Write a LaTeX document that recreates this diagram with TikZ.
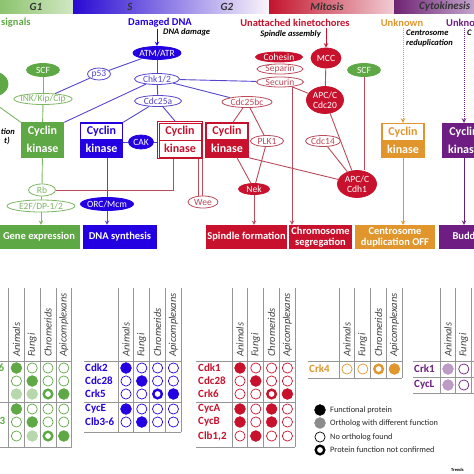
\documentclass[tikz,border=0pt]{standalone}
\usepackage{fontspec}
\setmainfont{Carlito}
\usepackage{tikz}
\usetikzlibrary{shapes.geometric, arrows, fit}
\definecolor{cgreen}{RGB}{95,168,70}
\definecolor{cgline}{RGB}{125,182,100}
\definecolor{cblue}{RGB}{35,0,225}
\definecolor{cbline}{RGB}{85,70,205}
\definecolor{cred}{RGB}{200,18,45}
\definecolor{crline}{RGB}{185,75,90}
\definecolor{corange}{RGB}{224,150,45}
\definecolor{cpurple}{RGB}{110,30,130}
\definecolor{cgrid}{RGB}{150,150,150}
\colorlet{tc}{black}
\tikzstyle{elbase} = [ellipse, inner xsep=-2pt, inner ysep=-1pt, minimum height=11pt, line width=0.8pt, align=center, font=\fontsize{9.5}{10}\selectfont]
\tikzstyle{halfbox} = [rectangle, minimum width=42pt, minimum height=17pt, inner sep=0pt, line width=1.4pt, font=\fontsize{12}{12}\selectfont\bfseries]
\tikzstyle{outbox} = [rectangle, minimum height=24pt, inner sep=1pt, text=white, align=center, font=\fontsize{10.5}{11}\selectfont\bfseries]
\tikzstyle{arrow} = [->, >=stealth]
\tikzstyle{bline} = [draw=cbline, line width=0.9pt]
\tikzstyle{gline} = [draw=cgline, line width=0.9pt]
\tikzstyle{rline} = [draw=crline, line width=0.9pt]
\tikzstyle{dotarrow} = [densely dotted, line width=1pt, ->, >=stealth]
\tikzstyle{note} = [inner sep=0pt, font=\fontsize{8.5}{10}\selectfont\bfseries\itshape]
\tikzstyle{phase} = [inner sep=0pt, text=black!80, font=\fontsize{11}{11}\selectfont\bfseries\itshape]
\tikzstyle{source} = [inner sep=1pt, font=\fontsize{10.5}{11}\selectfont\bfseries]
\tikzstyle{colhead} = [rotate=90, anchor=west, inner sep=1pt, text=black!75, font=\fontsize{10.5}{11}\selectfont\itshape]
\tikzstyle{rowlab} = [anchor=west, inner sep=0pt, font=\fontsize{11}{11}\selectfont\bfseries]
\tikzstyle{legtext} = [anchor=west, inner sep=0pt, text=black!85, font=\fontsize{8.3}{9}\selectfont]
\tikzstyle{gridline} = [draw=cgrid, line width=0.8pt]
\tikzstyle{cf} = [fill=tc, draw=tc, line width=0.6pt, radius=5.4pt]
\tikzstyle{co} = [fill=tc!45, draw=tc!45, line width=0.6pt, radius=5.4pt]
\tikzstyle{cn} = [fill=white, draw=tc, line width=0.7pt, radius=5.1pt]
\tikzstyle{cu} = [fill=white, draw=tc, line width=2.4pt, radius=4.3pt]
% column heads and grid of one ortholog table
\newcommand{\orthohead}[5]{%
  \foreach \t [count=\i from 0] in {#4}
    \node[colhead] (#3\i) at (#1+7.9+15.8*\i,358) {\t};
  \foreach \i in {0,...,#5}
    \draw[gridline] (#1+15.8*\i,288) -- (#1+15.8*\i,#2);
}
% one row of circles
\newcommand{\orthorow}[3]{%
  \foreach \k [count=\i from 0] in {#3}
    \path[\k] (#1+15.8*\i,#2) circle[];
}

\begin{document}
\begin{tikzpicture}[x=1pt, y=-1pt]
	\useasboundingbox (0,0) rectangle (474,474);
	\clip (0,0) rectangle (474,474);
	% Phase bar
	\shade[left color={rgb,255:red,140;green,195;blue,110}, right color={rgb,255:red,210;green,232;blue,195}] (0,0) rectangle (73,13);
	\shade[left color={rgb,255:red,40;green,10;blue,210}, right color={rgb,255:red,250;green,245;blue,250}] (73,0) rectangle (269,13);
	\shade[left color={rgb,255:red,195;green,20;blue,45}, right color={rgb,255:red,240;green,205;blue,212}] (269,0) rectangle (394,13);
	\shade[left color={rgb,255:red,110;green,35;blue,115}, right color={rgb,255:red,195;green,165;blue,205}] (394,0) rectangle (474,13);
	\node[phase] (phG1) at (36,6.8) {G1};
	\node[phase] (phS) at (130,6.8) {S};
	\node[phase] (phG2) at (227,6.8) {G2};
	\node[phase] (phM) at (327,6.8) {Mitosis};
	\node[phase, anchor=west] (phC) at (419,6.8) {Cytokinesis};
	% Signals
	\node[source, anchor=west, text=cgreen] (sig) at (0,23) {signals};
	\node[source, text=cblue] (dmg) at (160,23) {Damaged DNA};
	\node[source, text=cred] (ukin) at (295,23) {Unattached kinetochores};
	\node[source, text=corange] (unkO) at (402,23) {Unknown};
	\node[source, anchor=west, text=cpurple] (unkP) at (445,23) {Unknown};
	\node[note, anchor=west] (ndmg) at (163,32) {DNA damage};
	\node[note, anchor=east] (nspin) at (321,34) {Spindle assembly};
	\node[note, anchor=west, align=left] (ncen) at (406,38) {Centrosome\\reduplication};
	\node[note, anchor=west] (ncyt) at (467,33) {C};
	\node[note, anchor=east] (nres1) at (15,132) {tion};
	\node[note, anchor=east] (nres2) at (10,141) {t)};
	% Regulators
	\coordinate (atm) at (157,53);
	\coordinate (p53) at (99,74);
	\coordinate (chk) at (157,79);
	\coordinate (cdcA) at (158,101);
	\coordinate (cak) at (141,142);
	\coordinate (orc) at (107,204);
	\coordinate (scfG) at (43,70);
	\coordinate (ink) at (43,99);
	\coordinate (rb) at (42,190);
	\coordinate (e2f) at (41,206);
	\coordinate (cdcBC) at (247,102);
	\coordinate (cohesin) at (279,57);
	\coordinate (separin) at (280,69);
	\coordinate (securin) at (280,82);
	\coordinate (mcc) at (326,58);
	\coordinate (apc20) at (325,100);
	\coordinate (scfR) at (364,70);
	\coordinate (plk) at (267,141);
	\coordinate (cdc14) at (323,141);
	\coordinate (apc1) at (357,184);
	\coordinate (nek) at (254,189);
	\coordinate (wee) at (203,202);
	\coordinate (lsig) at (-6,103);
	% Blue
	\begin{scope}[every node/.style={elbase, fill=cblue, draw=cblue, text=white}]
	\node[name=atm, minimum width=48pt, minimum height=13pt] at (atm) {ATM/ATR};
	\node[name=cak, minimum width=25pt, minimum height=14pt] at (cak) {CAK};
	\node[name=orc, minimum width=53pt, minimum height=13pt] at (orc) {ORC/Mcm};
	\end{scope}
	\begin{scope}[every node/.style={elbase, fill=white, draw=cbline, text=cbline}]
	\node[name=p53, minimum width=23pt, minimum height=12pt] at (p53) {p53};
	\node[name=chk, minimum width=45pt] at (chk) {Chk1/2};
	\node[name=cdcA, minimum width=47pt] at (cdcA) {Cdc25a};
	\end{scope}
	% Green
	\begin{scope}[every node/.style={elbase, fill=cgreen, draw=cgreen, text=white}]
	\node[name=scfG, minimum width=33pt, minimum height=13pt] at (scfG) {SCF};
	\node[name=scfR, minimum width=33pt, minimum height=13pt] at (scfR) {SCF};
	\node[name=lsigEl, minimum width=36pt, minimum height=26pt] at (-10,84) {};
	\end{scope}
	\begin{scope}[every node/.style={elbase, fill=white, draw=cgline, text=cgline}]
	\node[name=ink, minimum width=57pt] at (ink) {INK/Kip/Cip};
	\node[name=rb, minimum width=27pt, minimum height=12pt] at (rb) {Rb};
	\node[name=e2f, minimum width=68pt, minimum height=12pt] at (e2f) {E2F/DP-1/2};
	\end{scope}
	% Red
	\begin{scope}[every node/.style={elbase, fill=cred, draw=cred, text=white}]
	\node[name=cohesin, minimum width=47pt, minimum height=10pt] at (cohesin) {Cohesin};
	\node[name=mcc, minimum width=30pt, minimum height=20pt] at (mcc) {MCC};
	\node[name=apc20, minimum width=37pt, minimum height=27pt] at (apc20) {APC/C\\Cdc20};
	\node[name=apc1, minimum width=39pt, minimum height=27pt] at (apc1) {APC/C\\Cdh1};
	\node[name=nek, minimum width=31pt] at (nek) {Nek};
	\end{scope}
	\begin{scope}[every node/.style={elbase, fill=white, draw=crline, text=crline}]
	\node[name=separin, minimum width=46pt, minimum height=10pt] at (separin) {Separin};
	\node[name=securin, minimum width=47pt, minimum height=10pt] at (securin) {Securin};
	\node[name=cdcBC, minimum width=50pt] at (cdcBC) {Cdc25bc};
	\node[name=plk, minimum width=33pt] at (plk) {PLK1};
	\node[name=cdc14, minimum width=35pt] at (cdc14) {Cdc14};
	\node[name=wee, minimum width=30pt, minimum height=12pt] at (wee) {Wee};
	\end{scope}
	% Cyclin kinases
	\node[name=cycG, halfbox, fill=cgreen, draw=cgreen, text=white] at (42.5,131.5) {Cyclin};
	\node[name=cycGk, halfbox, fill=cgreen, draw=cgreen, text=white] at (42.5,148.5) {kinase};
	\node[name=cycB, halfbox, fill=white, draw=cblue, text=cblue] at (101.5,131.5) {Cyclin};
	\node[name=cycBk, halfbox, fill=cblue, draw=cblue, text=white] at (101.5,148.5) {kinase};
	\node[name=cycR1, halfbox, line width=0.8pt, fill=white, draw=cred, text=cred] at (180,131.5) {Cyclin};
	\node[name=cycR1k, halfbox, line width=0.8pt, fill=white, draw=cred, text=cred] at (180,148.5) {kinase};
	\node[name=cycR1f, fit=(cycR1)(cycR1k), draw=cred, line width=0.8pt, inner sep=1.2pt] {};
	\node[name=cycR2, halfbox, fill=white, draw=cred, text=cred] at (227,131.5) {Cyclin};
	\node[name=cycR2k, halfbox, fill=cred, draw=cred, text=white] at (227,148.5) {kinase};
	\node[name=cycO, halfbox, fill=white, draw=corange, text=corange] at (403,132) {Cyclin};
	\node[name=cycOk, halfbox, fill=corange, draw=corange, text=white] at (403,149) {kinase};
	\node[name=cycP, halfbox, fill=cpurple, draw=cpurple, text=white] at (464,132) {Cyclin};
	\node[name=cycPk, halfbox, fill=cpurple, draw=cpurple, text=white] at (464,149) {kinase};
	% Outputs
	\node[name=outGene, outbox, fill=cgreen, minimum width=82pt] at (39,237) {Gene expression};
	\node[name=outDNA, outbox, fill=cblue, minimum width=74pt] at (120,237) {DNA synthesis};
	\node[name=outSpin, outbox, fill=cred, minimum width=79pt] at (246.5,237) {Spindle formation};
	\node[name=outChrom, outbox, fill=cred, minimum width=63pt] at (320.5,237) {Chromosome\\segregation};
	\node[name=outCen, outbox, fill=corange, minimum width=80pt] at (395,237) {Centrosome\\duplication OFF};
	\node[name=outBud, outbox, fill=cpurple, minimum width=63pt] at (470.5,237) {Budding};
	% Connectors
	\draw[arrow, draw=cblue, line width=1pt] (dmg.south -| atm) -- (atm);
	\draw[arrow, draw=cred, line width=1pt] (ukin.south -| mcc) -- (mcc);
	\draw[dotarrow, draw=corange] (cycO.north |- unkO.south) -- (cycO.north);
	\draw[dotarrow, draw=cpurple] (cycP.north |- unkP.south) -- (cycP.north);
	\draw[bline] (atm) -- (p53);
	\draw[bline] (p53) -- (ink);
	\draw[bline] (atm) -- (chk);
	\draw[bline] (chk) -- (cdcA);
	\draw[bline] (chk) -- (cycG.north east);
	\draw[bline] (chk) -- (securin);
	\draw[bline] (chk) -- (cdcBC);
	\draw[bline] (cdcA) -- (cycB.north east);
	\draw[bline] (cdcA) -- ([xshift=-5pt]cycR1f.north);
	\draw[bline] (cak) -- (cak -| cycBk.east);
	\draw[bline] (cak) -- (cak -| cycR1f.west);
	\draw[bline] (orc.north |- cycBk.south) -- (orc);
	\draw[bline, arrow] (orc) -- (orc.south |- outDNA.north);
	\draw[gline] (scfG) -- (ink);
	\draw[gline] (ink) -- (cycG);
	\draw[gline] (lsig) -- (cycG.north west);
	\draw[gline] (cycGk) -- (rb);
	\draw[gline] (rb) -- (e2f);
	\draw[gline, arrow] (e2f) -- (e2f.south |- outGene.north);
	\draw[rline] (rb) -| ([xshift=-7pt]cycR1f.south);
	\draw[rline] ([xshift=-5pt]wee.north) -- ([xshift=-5pt]wee.north |- cycR1f.south);
	\draw[rline] ([xshift=-1pt]wee.north) -- ([xshift=-1pt]wee.north |- cycR1f.south);
	\draw[rline] (cdcBC) -- ([xshift=6pt]cycR2.north);
	\draw[rline] (cdcBC) -- (plk);
	\draw[rline] (plk) -- (nek);
	\draw[rline] ([xshift=10pt]cycR2k.south) -- (nek);
	\draw[rline] (cycR2k.south east) -- (apc1);
	\draw[rline, arrow] (nek) -- (nek.south |- outSpin.north);
	\draw[rline] (securin) -- (apc20);
	\draw[rline, arrow] ([xshift=12pt]securin.south) -- ([xshift=12pt]securin.south |- outChrom.north);
	\draw[rline] (mcc) -- (apc20);
	\draw[rline] (apc20) -- (apc1);
	\draw[rline] (cdc14) -- (apc1);
	\draw[rline] (scfR) -- (scfR |- apc1.north);
	\draw[arrow, draw=corange, line width=0.9pt] (cycOk) -- (cycOk.south |- outCen.north);
	\draw[arrow, draw=cpurple, line width=0.9pt] (cycPk) -- (cycPk.south |- outBud.north);
	% Ortholog tables
	\begin{scope}
	\colorlet{tc}{cgreen}
	\orthohead{8.5}{447}{ga}{Animals,Fungi,Chromerids,Apicomplexans}{4}
	\draw[gridline] (-2,361) -- (71.7,361);
	\draw[gridline] (-2,402) -- (71.7,402);
	\draw[gridline] (-2,447) -- (71.7,447);
	\node[rowlab, anchor=east, text=cgreen] (gaL1) at (4.5,368) {Cdk4/6};
	\node[rowlab, anchor=east, text=cgreen] (gaL5) at (5.5,422) {CycD1-3};
	\orthorow{16.4}{368}{cf,cn,cn,cn}
	\orthorow{16.4}{381}{cn,cf,cn,cn}
	\orthorow{16.4}{394}{co,co,cu,cf}
	\orthorow{16.4}{409}{cf,cn,cn,cn}
	\orthorow{16.4}{422}{cn,cf,cn,cn}
	\orthorow{16.4}{436}{cn,co,cu,cf}
	\end{scope}
	\begin{scope}
	\colorlet{tc}{cblue}
	\orthohead{118}{432}{ba}{Animals,Fungi,Chromerids,Apicomplexans}{4}
	\draw[gridline] (84,361) -- (181.2,361);
	\draw[gridline] (84,402) -- (181.2,402);
	\draw[gridline] (84,432) -- (181.2,432);
	\node[rowlab, text=cblue] (baL1) at (85,368) {Cdk2};
	\node[rowlab, text=cblue] (baL2) at (85,381) {Cdc28};
	\node[rowlab, text=cblue] (baL3) at (85,394) {Crk5};
	\node[rowlab, text=cblue] (baL4) at (85,409) {CycE};
	\node[rowlab, text=cblue] (baL5) at (85,422) {Clb3-6};
	\orthorow{126}{368}{cf,cn,cn,cn}
	\orthorow{126}{381}{cn,cf,cn,cn}
	\orthorow{126}{394}{cn,cn,cu,cf}
	\orthorow{126}{409}{cf,cn,cn,cn}
	\orthorow{126}{422}{cn,cf,cn,cn}
	\end{scope}
	\begin{scope}
	\colorlet{tc}{cred}
	\orthohead{232}{447}{ra}{Animals,Fungi,Chromerids,Apicomplexans}{4}
	\draw[gridline] (196,361) -- (295.2,361);
	\draw[gridline] (196,402) -- (295.2,402);
	\draw[gridline] (196,447) -- (295.2,447);
	\node[rowlab, text=cred] (raL1) at (198,368) {Cdk1};
	\node[rowlab, text=cred] (raL2) at (198,381) {Cdc28};
	\node[rowlab, text=cred] (raL3) at (198,394) {Crk6};
	\node[rowlab, text=cred] (raL4) at (198,409) {CycA};
	\node[rowlab, text=cred] (raL5) at (198,422) {CycB};
	\node[rowlab, text=cred] (raL6) at (198,436) {Clb1,2};
	\orthorow{240}{368}{cf,cn,cn,cn}
	\orthorow{240}{381}{cn,cf,cn,cn}
	\orthorow{240}{394}{cn,cn,cu,cf}
	\orthorow{240}{409}{cf,cn,cf,cn}
	\orthorow{240}{422}{cf,cn,cf,cn}
	\orthorow{240}{436}{cn,cf,cn,cn}
	\end{scope}
	\begin{scope}
	\colorlet{tc}{corange}
	\orthohead{339}{378}{oa}{Animals,Fungi,Chromerids,Apicomplexans}{4}
	\draw[gridline] (308,361) -- (402.2,361);
	\draw[gridline] (308,378) -- (402.2,378);
	\node[rowlab, text=corange] (oaL1) at (309,369) {Crk4};
	\orthorow{347}{369}{cn,cn,cu,cf}
	\end{scope}
	\begin{scope}
	\colorlet{tc}{cpurple}
	\orthohead{440}{393}{pa}{Animals,Fungi}{2}
	\draw[gridline] (413,361) -- (474,361);
	\draw[gridline] (413,377) -- (474,377);
	\draw[gridline] (413,393) -- (474,393);
	\node[rowlab, text=cpurple] (paL1) at (414,369) {Crk1};
	\node[rowlab, text=cpurple] (paL2) at (414,385) {CycL};
	\orthorow{448}{369}{co,cn}
	\orthorow{448}{385}{co,cn}
	\end{scope}
	% Legend
	\path[cf] (320,410) circle[];
	\path[co] (320,423) circle[];
	\path[cn] (320,437) circle[];
	\path[cu] (320,450) circle[];
	\node[legtext] (legF) at (330,410) {Functional protein};
	\node[legtext] (legO) at (330,423) {Ortholog with different function};
	\node[legtext] (legN) at (330,437) {No ortholog found};
	\node[legtext] (legU) at (330,450) {Protein function not confirmed};
	\node[anchor=west, inner sep=0pt, font=\fontsize{4.5}{5}\selectfont\bfseries] (trends) at (451,470) {Trends};
\end{tikzpicture}
\end{document}
